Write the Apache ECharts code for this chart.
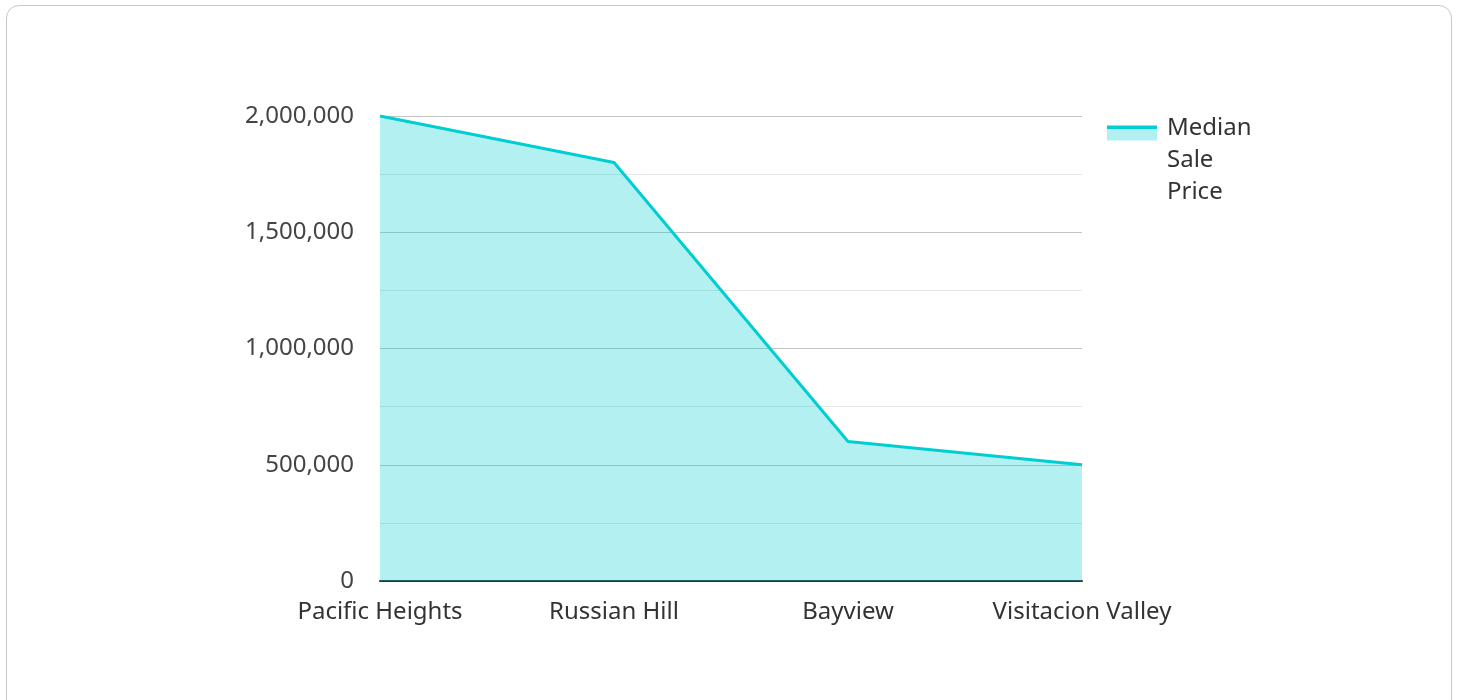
<!DOCTYPE html>
<html>
<head>
<meta charset="utf-8">
<script src="https://cdn.jsdelivr.net/npm/echarts@6/dist/echarts.min.js"></script>
<style>
html,body{margin:0;padding:0;background:#fff;}
#card{position:absolute;left:6px;top:5px;width:1446px;height:720px;border:1.5px solid #c8c8c8;border-radius:13px;box-sizing:border-box;}
#chart{position:absolute;left:0;top:0;width:1458px;height:700px;}
</style>
</head>
<body>
<div id="card"></div>
<div id="chart"></div>
<script>
const categories = ['Pacific Heights', 'Russian Hill', 'Bayview', 'Visitacion Valley'];
const medianSalePrice = [2000000, 1800000, 600000, 500000];
const seriesName = 'Median Sale Price';
const yTicks = [0, 500000, 1000000, 1500000, 2000000];

const lineColor = '#00ced1';
const fillColor = '#b3f0f1';
const chart = echarts.init(document.getElementById('chart'));
chart.setOption({
  animation: false,
  textStyle: { fontFamily: 'Noto Sans' },
  grid: { left: 380, right: 376, top: 116, bottom: 119, containLabel: false },
  legend: {
    orient: 'vertical',
    left: 1102,
    top: 43,
    itemWidth: 55,
    itemHeight: 15,
    itemGap: 10,
    icon: 'path://M0,0H50V15H0ZM55,0',
    data: [{
      name: seriesName,
      itemStyle: {
        color: {
          type: 'linear', x: 0, y: 0, x2: 0, y2: 1,
          colorStops: [
            { offset: 0, color: lineColor },
            { offset: 0.22, color: lineColor },
            { offset: 0.22, color: fillColor },
            { offset: 1, color: fillColor }
          ]
        }
      }
    }],
    formatter: function (n) { return '\n\n' + n.split(' ').join('\n') + '\n{s| }'; },
    textStyle: {
      fontSize: 24, color: '#333', lineHeight: 32, fontFamily: 'Noto Sans',
      rich: { s: { fontSize: 1, lineHeight: 10 } }
    }
  },
  xAxis: {
    type: 'category',
    data: categories,
    boundaryGap: false,
    axisLine: { show: true, lineStyle: { color: '#333', width: 2 } },
    axisTick: { show: false },
    axisLabel: { fontSize: 24, color: '#333', margin: 19, fontFamily: 'Noto Sans' },
    splitLine: { show: false }
  },
  yAxis: {
    type: 'value',
    min: yTicks[0],
    max: yTicks[yTicks.length - 1],
    interval: yTicks[1] - yTicks[0],
    axisLine: { show: false },
    axisTick: { show: false },
    axisLabel: {
      fontSize: 24, color: '#444', margin: 26, fontFamily: 'Noto Sans',
      formatter: function (v) { return v.toLocaleString('en-US'); }
    },
    splitLine: { show: true, lineStyle: { color: '#c4c4c4', width: 1.2 } },
    minorTick: { show: false, splitNumber: 2 },
    minorSplitLine: { show: true, lineStyle: { color: '#e6e6e6', width: 1.2 } }
  },
  series: [{
    name: seriesName,
    type: 'line',
    data: medianSalePrice,
    showSymbol: false,
    symbol: 'none',
    lineStyle: { color: lineColor, width: 3 },
    itemStyle: { color: lineColor },
    areaStyle: { color: lineColor, opacity: 0.3 }
  }]
});
</script>
</body>
</html>
